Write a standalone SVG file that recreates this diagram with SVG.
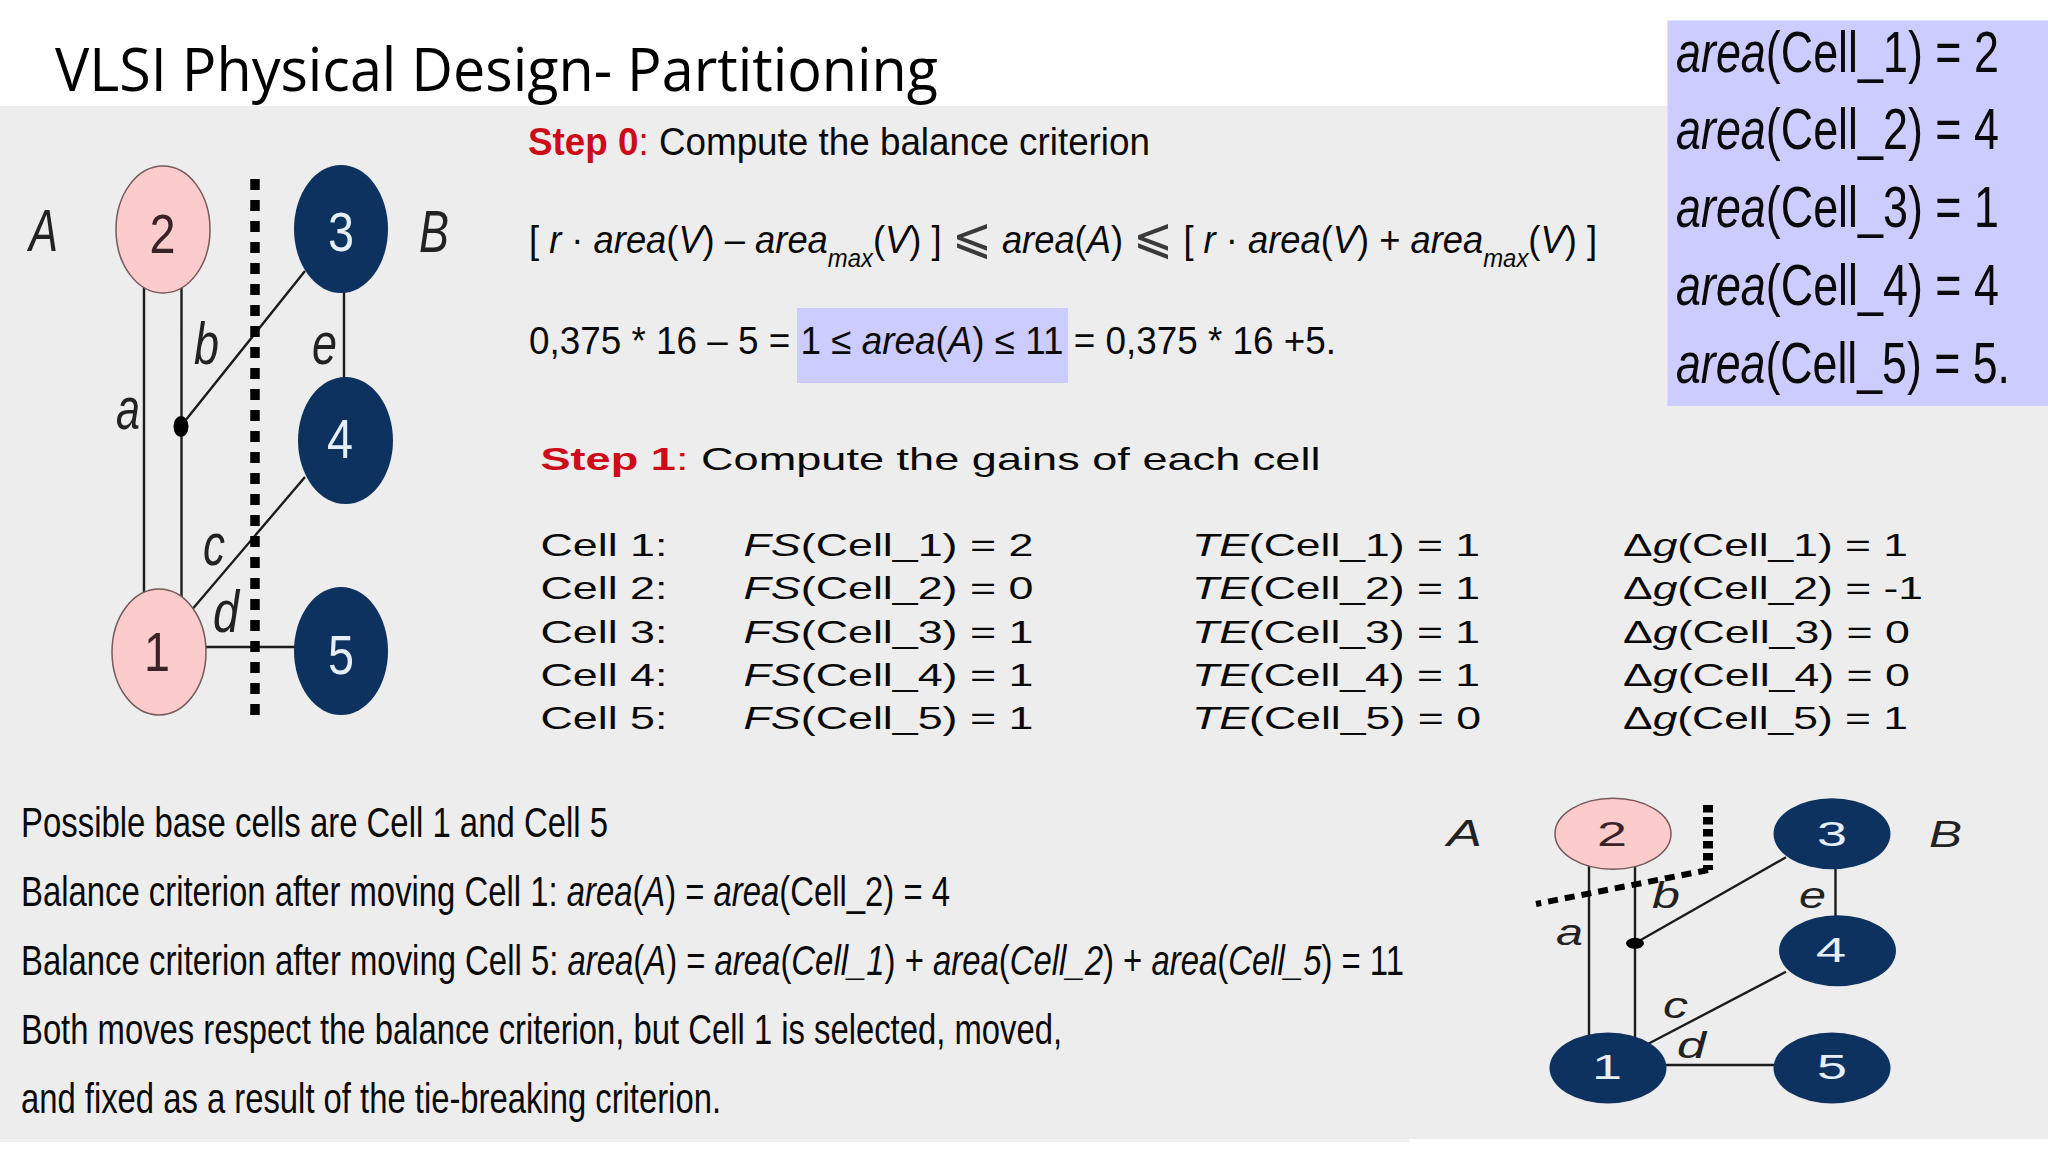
<svg xmlns="http://www.w3.org/2000/svg" width="2048" height="1152" viewBox="0 0 2048 1152">
<style>
text{font-family:"Liberation Sans",Arial,sans-serif;fill:#0a0a0a}
.t{font-family:"Open Sans","Noto Sans",sans-serif;font-size:61px;fill:#000}
.i,tspan.i{font-style:italic}
.r{fill:#cc0c18}
.b{font-weight:bold}
.s0{font-size:38px}
.s1{font-size:31.6px}
.a{font-size:58px}
.p{font-size:43px}
.pink{fill:#fccccc;stroke:#75595b;stroke-width:1.5}
.navy{fill:#0e325f}
.dk{fill:#3a2326}
.lt{fill:#e6eff8}
.big{font-size:56px}
.sm{font-size:34.5px}
.lb{font-size:60px;font-style:italic;fill:#222}
.lbs{font-size:36px;font-style:italic;fill:#222}
.e{stroke:#1c1c1c;stroke-width:2.4;fill:none}
.hl{fill:#ccccff}
.le{font-size:50px;fill:#3a3a3a}
</style>
<rect width="2048" height="1152" fill="#ffffff"/>
<rect x="0" y="106" width="2048" height="1033" fill="#ededed"/>
<rect x="0" y="1139" width="1410" height="3" fill="#f2f2f2"/>
<rect class="hl" x="1667.5" y="20.5" width="380.5" height="385.5"/>
<rect class="hl" x="797" y="308" width="271" height="75"/>
<text class="t" x="55" y="91" textLength="883" lengthAdjust="spacingAndGlyphs">VLSI Physical Design- Partitioning</text>
<g id="connectors">
<path class="e" d="M144 270V610M181.500 270V610M181 426L305 271M190 612L305 477M195 647H300M344 280V390"/>
<path d="M255 179V716" stroke="#000" stroke-width="9.500" stroke-dasharray="11 10" fill="none"/>
<path class="e" d="M1589 855V1045M1635 855V1045M1635 943.300L1786 857.300M1645 1045.500L1786 971.700M1660 1065H1780M1835.500 860V925"/>
<path d="M1708 805V870" stroke="#000" stroke-width="10" stroke-dasharray="7.500 4.500" fill="none"/>
<path d="M1708 870L1536 904" stroke="#000" stroke-width="6" stroke-dasharray="10 7" fill="none"/>
</g>
<g id="graph1-dot"><ellipse cx="181" cy="426.500" rx="7.500" ry="10.500" fill="#000"/></g>
<g id="graph1-node2"><ellipse class="pink" cx="163" cy="229.500" rx="47" ry="63.500"/><text class="big dk" x="149.500" y="253" textLength="26" lengthAdjust="spacingAndGlyphs">2</text></g>
<g id="graph1-node3"><ellipse class="navy" cx="341" cy="229" rx="47" ry="64"/><text class="big lt" x="328" y="251" textLength="26" lengthAdjust="spacingAndGlyphs">3</text></g>
<g id="graph1-node4"><ellipse class="navy" cx="345.500" cy="440.500" rx="47.500" ry="63.500"/><text class="big lt" x="327" y="458" textLength="26" lengthAdjust="spacingAndGlyphs">4</text></g>
<g id="graph1-node1"><ellipse class="pink" cx="159" cy="652" rx="47" ry="63"/><text class="big dk" x="144" y="671" textLength="26" lengthAdjust="spacingAndGlyphs">1</text></g>
<g id="graph1-node5"><ellipse class="navy" cx="341" cy="651" rx="47" ry="64"/><text class="big lt" x="328" y="674" textLength="26" lengthAdjust="spacingAndGlyphs">5</text></g>
<g id="graph1-labels">
<text class="lb" x="29" y="251" textLength="29" lengthAdjust="spacingAndGlyphs">A</text>
<text class="lb" x="419" y="252" textLength="30" lengthAdjust="spacingAndGlyphs">B</text>
<text class="lb" x="116" y="429" textLength="24" lengthAdjust="spacingAndGlyphs">a</text>
<text class="lb" x="194" y="363.500" textLength="25" lengthAdjust="spacingAndGlyphs">b</text>
<text class="lb" x="203" y="565" textLength="22" lengthAdjust="spacingAndGlyphs">c</text>
<text class="lb" x="213" y="631.500" textLength="26" lengthAdjust="spacingAndGlyphs">d</text>
<text class="lb" x="312" y="363.500" textLength="25" lengthAdjust="spacingAndGlyphs">e</text>
</g>
<g id="graph2-dot"><ellipse cx="1635" cy="943.300" rx="9" ry="5.500" fill="#000"/></g>
<g id="graph2-node2"><ellipse class="pink" cx="1613" cy="833.800" rx="58" ry="35.500"/><text class="sm dk" x="1597" y="846" textLength="30" lengthAdjust="spacingAndGlyphs">2</text></g>
<g id="graph2-node3"><ellipse class="navy" cx="1832" cy="833.800" rx="58.500" ry="35.500"/><text class="sm lt" x="1817" y="846" textLength="30" lengthAdjust="spacingAndGlyphs">3</text></g>
<g id="graph2-node4"><ellipse class="navy" cx="1837.500" cy="950.800" rx="58.500" ry="35.500"/><text class="sm lt" x="1816" y="961.700" textLength="30" lengthAdjust="spacingAndGlyphs">4</text></g>
<g id="graph2-node1"><ellipse class="navy" cx="1608" cy="1068" rx="58.500" ry="35.500"/><text class="sm lt" x="1592" y="1079.300" textLength="30" lengthAdjust="spacingAndGlyphs">1</text></g>
<g id="graph2-node5"><ellipse class="navy" cx="1832" cy="1068" rx="58.500" ry="35.500"/><text class="sm lt" x="1817" y="1079.300" textLength="30" lengthAdjust="spacingAndGlyphs">5</text></g>
<g id="graph2-labels">
<text class="lbs" x="1447" y="846" textLength="35" lengthAdjust="spacingAndGlyphs">A</text>
<text class="lbs" x="1929" y="847.300" textLength="33" lengthAdjust="spacingAndGlyphs">B</text>
<text class="lbs" x="1556" y="945" textLength="27" lengthAdjust="spacingAndGlyphs">a</text>
<text class="lbs" x="1652" y="907.700" textLength="28" lengthAdjust="spacingAndGlyphs">b</text>
<text class="lbs" x="1663" y="1018" textLength="25" lengthAdjust="spacingAndGlyphs">c</text>
<text class="lbs" x="1677" y="1057.700" textLength="29" lengthAdjust="spacingAndGlyphs">d</text>
<text class="lbs" x="1799" y="907.700" textLength="27" lengthAdjust="spacingAndGlyphs">e</text>
</g>
<g id="step0">
<text class="s0" x="528" y="155" textLength="622" lengthAdjust="spacingAndGlyphs"><tspan class="r b">Step 0</tspan><tspan class="r">:</tspan> Compute the balance criterion</text>
<text class="s0" x="529" y="252.500" textLength="1068" lengthAdjust="spacingAndGlyphs">[ <tspan class="i">r</tspan> · <tspan class="i">area</tspan>(<tspan class="i">V</tspan>) – <tspan class="i">area</tspan><tspan class="i" dy="14" font-size="25">max</tspan><tspan dy="-14">(</tspan><tspan class="i">V</tspan>) ] <tspan class="le">⩽</tspan> <tspan class="i">area</tspan>(<tspan class="i">A</tspan>) <tspan class="le">⩽</tspan> [ <tspan class="i">r</tspan> · <tspan class="i">area</tspan>(<tspan class="i">V</tspan>) + <tspan class="i">area</tspan><tspan class="i" dy="14" font-size="25">max</tspan><tspan dy="-14">(</tspan><tspan class="i">V</tspan>) ]</text>
<text class="s0" x="529" y="354" textLength="807" lengthAdjust="spacingAndGlyphs">0,375 * 16 – 5 = 1 ≤ <tspan class="i">area</tspan>(<tspan class="i">A</tspan>) ≤ 11 = 0,375 * 16 +5.</text>
</g>
<g id="cell-areas">
<text class="a" x="1676" y="71.500" textLength="323" lengthAdjust="spacingAndGlyphs"><tspan class="i">area</tspan>(Cell_1) = 2</text>
<text class="a" x="1676" y="149" textLength="323" lengthAdjust="spacingAndGlyphs"><tspan class="i">area</tspan>(Cell_2) = 4</text>
<text class="a" x="1676" y="227" textLength="323" lengthAdjust="spacingAndGlyphs"><tspan class="i">area</tspan>(Cell_3) = 1</text>
<text class="a" x="1676" y="305" textLength="323" lengthAdjust="spacingAndGlyphs"><tspan class="i">area</tspan>(Cell_4) = 4</text>
<text class="a" x="1676" y="382.500" textLength="334" lengthAdjust="spacingAndGlyphs"><tspan class="i">area</tspan>(Cell_5) = 5.</text>
</g>
<g id="step1">
<text class="s1" x="540.500" y="470" textLength="780" lengthAdjust="spacingAndGlyphs"><tspan class="r b">Step 1</tspan><tspan class="r">:</tspan> Compute the gains of each cell</text>
<text class="s1" x="540.500" y="556" textLength="127" lengthAdjust="spacingAndGlyphs">Cell 1:</text>
<text class="s1" x="540.500" y="599" textLength="127" lengthAdjust="spacingAndGlyphs">Cell 2:</text>
<text class="s1" x="540.500" y="642.500" textLength="127" lengthAdjust="spacingAndGlyphs">Cell 3:</text>
<text class="s1" x="540.500" y="686" textLength="127" lengthAdjust="spacingAndGlyphs">Cell 4:</text>
<text class="s1" x="540.500" y="729" textLength="127" lengthAdjust="spacingAndGlyphs">Cell 5:</text>
<text class="s1" x="743.500" y="556" textLength="290" lengthAdjust="spacingAndGlyphs"><tspan class="i">FS</tspan>(Cell_1) = 2</text>
<text class="s1" x="743.500" y="599" textLength="290" lengthAdjust="spacingAndGlyphs"><tspan class="i">FS</tspan>(Cell_2) = 0</text>
<text class="s1" x="743.500" y="642.500" textLength="290" lengthAdjust="spacingAndGlyphs"><tspan class="i">FS</tspan>(Cell_3) = 1</text>
<text class="s1" x="743.500" y="686" textLength="290" lengthAdjust="spacingAndGlyphs"><tspan class="i">FS</tspan>(Cell_4) = 1</text>
<text class="s1" x="743.500" y="729" textLength="290" lengthAdjust="spacingAndGlyphs"><tspan class="i">FS</tspan>(Cell_5) = 1</text>
<text class="s1" x="1192" y="556" textLength="288" lengthAdjust="spacingAndGlyphs"><tspan class="i">TE</tspan>(Cell_1) = 1</text>
<text class="s1" x="1192" y="599" textLength="288" lengthAdjust="spacingAndGlyphs"><tspan class="i">TE</tspan>(Cell_2) = 1</text>
<text class="s1" x="1192" y="642.500" textLength="288" lengthAdjust="spacingAndGlyphs"><tspan class="i">TE</tspan>(Cell_3) = 1</text>
<text class="s1" x="1192" y="686" textLength="288" lengthAdjust="spacingAndGlyphs"><tspan class="i">TE</tspan>(Cell_4) = 1</text>
<text class="s1" x="1192" y="729" textLength="289" lengthAdjust="spacingAndGlyphs"><tspan class="i">TE</tspan>(Cell_5) = 0</text>
<text class="s1" x="1623" y="556" textLength="285" lengthAdjust="spacingAndGlyphs">Δ<tspan class="i">g</tspan>(Cell_1) = 1</text>
<text class="s1" x="1623" y="599" textLength="300" lengthAdjust="spacingAndGlyphs">Δ<tspan class="i">g</tspan>(Cell_2) = -1</text>
<text class="s1" x="1623" y="642.500" textLength="287" lengthAdjust="spacingAndGlyphs">Δ<tspan class="i">g</tspan>(Cell_3) = 0</text>
<text class="s1" x="1623" y="686" textLength="287" lengthAdjust="spacingAndGlyphs">Δ<tspan class="i">g</tspan>(Cell_4) = 0</text>
<text class="s1" x="1623" y="729" textLength="285" lengthAdjust="spacingAndGlyphs">Δ<tspan class="i">g</tspan>(Cell_5) = 1</text>
</g>
<g id="conclusion">
<text class="p" x="21" y="837" textLength="587" lengthAdjust="spacingAndGlyphs">Possible base cells are Cell 1 and Cell 5</text>
<text class="p" x="21" y="906" textLength="929" lengthAdjust="spacingAndGlyphs">Balance criterion after moving Cell 1: <tspan class="i">area</tspan>(<tspan class="i">A</tspan>) = <tspan class="i">area</tspan>(Cell_2) = 4</text>
<text class="p" x="21" y="975" textLength="1383" lengthAdjust="spacingAndGlyphs">Balance criterion after moving Cell 5: <tspan class="i">area</tspan>(<tspan class="i">A</tspan>) = <tspan class="i">area</tspan>(<tspan class="i">Cell_1</tspan>) + <tspan class="i">area</tspan>(<tspan class="i">Cell_2</tspan>) + <tspan class="i">area</tspan>(<tspan class="i">Cell_5</tspan>) = 11</text>
<text class="p" x="21" y="1044" textLength="1041" lengthAdjust="spacingAndGlyphs">Both moves respect the balance criterion, but Cell 1 is selected, moved,</text>
<text class="p" x="21" y="1113" textLength="700" lengthAdjust="spacingAndGlyphs">and fixed as a result of the tie-breaking criterion.</text>
</g>
</svg>
